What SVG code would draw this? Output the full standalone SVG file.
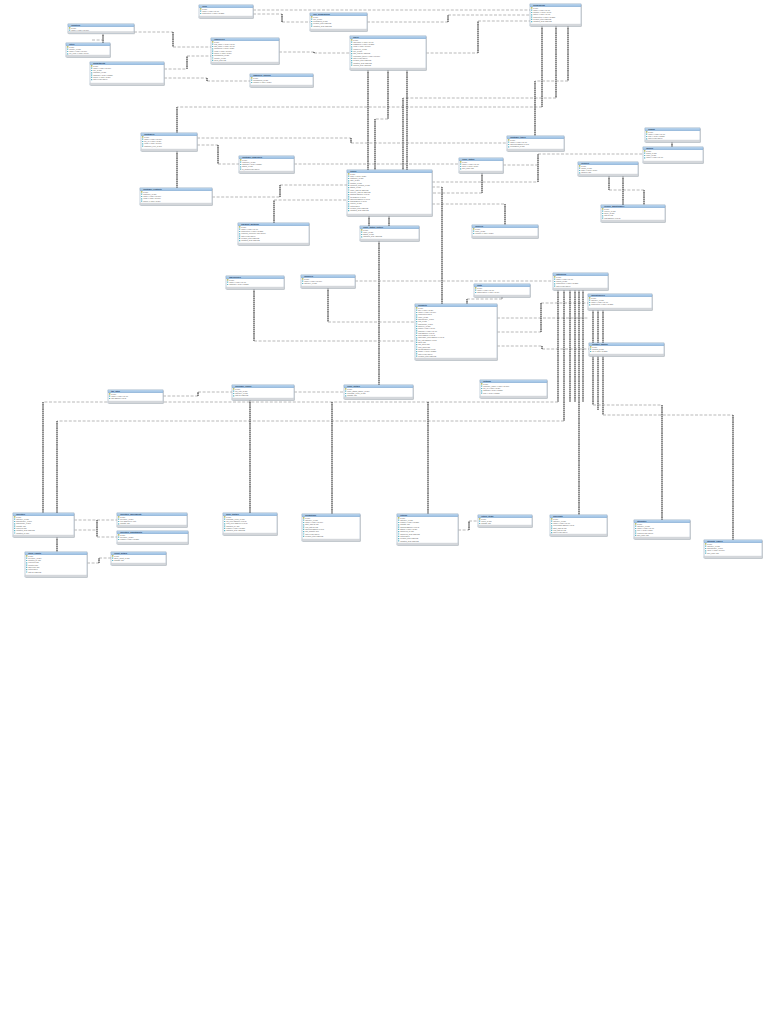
<svg xmlns="http://www.w3.org/2000/svg" width="768" height="1024" viewBox="0 0 768 1024">
<defs>
<linearGradient id="hg" x1="0" y1="0" x2="0" y2="1"><stop offset="0" stop-color="#c6ddf2"/><stop offset="1" stop-color="#8fb8e0"/></linearGradient>
<style>
.h{stroke:#9c9c9c;stroke-width:0.7;stroke-dasharray:3 1.6;fill:none}
.v{stroke:#2d2d2d;stroke-width:1.1;stroke-dasharray:1.6 0.5;fill:none}
.sh{fill:#c8c8c8}
.bx{fill:#ffffff;stroke:#8ea3b8;stroke-width:0.5}
.hd{fill:url(#hg);stroke:#7fa3c6;stroke-width:0.3}
.ft{fill:#d9dbde;stroke:#a9b3bd;stroke-width:0.2}
.ti{font-family:"Liberation Sans",Arial,sans-serif;font-size:2px;font-weight:bold;fill:#1d3a5c}
.r{font-family:"Liberation Sans",Arial,sans-serif;font-size:1.8px;fill:#5a5a5a}
.ic{stroke:#45aac4;stroke-width:1.1;stroke-dasharray:1.2 1.1}
.pk{fill:#e8c030}
</style>
</defs>
<rect width="768" height="1024" fill="#ffffff"/>
<g id="connectors">
<path class="h" d="M253,10H530"/>
<path class="h" d="M253,14H282M282,22H310"/><path class="v" d="M282,14V22"/>
<path class="h" d="M367,22H448M448,15H530"/><path class="v" d="M448,22V15"/>
<path class="h" d="M426,53H478M478,21H530"/><path class="v" d="M478,53V21"/>
<path class="h" d="M279,52H314M314,53H350"/><path class="v" d="M314,52V53"/>
<path class="h" d="M134,32H173M173,47H211"/><path class="v" d="M173,32V47"/>
<path class="h" d="M164,69H187M187,56H211"/><path class="v" d="M187,69V56"/>
<path class="h" d="M164,78H207M207,81H250"/><path class="v" d="M207,78V81"/>
<path class="v" d="M103,33V43"/><path class="h" d="M92,40H103"/>
<path class="v" d="M542,26V107M177,107V133"/><path class="h" d="M542,107H177"/>
<path class="v" d="M556,26V98M403,98V170"/><path class="h" d="M556,98H403"/>
<path class="v" d="M568,26V81M535,81V136"/><path class="h" d="M568,81H535"/>
<path class="v" d="M368,70V170"/>
<path class="v" d="M388,70V119M375,119V170"/><path class="h" d="M388,119H375"/>
<path class="v" d="M407,70V170"/>
<path class="h" d="M197,138H351M351,143H507"/><path class="v" d="M351,138V143"/>
<path class="h" d="M197,145H218M218,164H239"/><path class="v" d="M218,145V164"/>
<path class="h" d="M294,164H459"/>
<path class="v" d="M177,151V188"/>
<path class="h" d="M212,197H280M280,185H347"/><path class="v" d="M280,197V185"/>
<path class="v" d="M274,223V200"/><path class="h" d="M274,200H347"/>
<path class="h" d="M432,182H538M538,154H643"/><path class="v" d="M538,182V154"/>
<path class="h" d="M503,165H538"/>
<path class="v" d="M482,173V193"/><path class="h" d="M482,193H432"/>
<path class="h" d="M432,204H505"/><path class="v" d="M505,204V225"/>
<path class="h" d="M432,187H442"/><path class="v" d="M442,187V304"/>
<path class="v" d="M369,216V226M389,216V226"/>
<path class="v" d="M379,241V385"/>
<path class="v" d="M672,142V147"/>
<path class="v" d="M609,176V190M644,190V205"/><path class="h" d="M609,190H644"/>
<path class="v" d="M623,176V205"/>
<path class="v" d="M254,289V341"/><path class="h" d="M254,341H415"/>
<path class="v" d="M328,288V322"/><path class="h" d="M328,322H415"/>
<path class="h" d="M355,281H553"/>
<path class="v" d="M502,297V299M467,299V304"/><path class="h" d="M502,299H467"/>
<path class="h" d="M497,318H588"/>
<path class="h" d="M497,332H541M541,303H588"/><path class="v" d="M541,332V303"/>
<path class="h" d="M497,346H542M542,349H589"/><path class="v" d="M542,346V349"/>
<path class="v" d="M558,290V402M564,290V421M570,290V402M575,290V402M579,290V515M583,290V402M593,310V405M598,310V410M603,310V415"/>
<path class="h" d="M558,402H43M564,421H57M593,405H662M603,415H733"/>
<path class="v" d="M43,402V513M57,421V513M250,400V513M332,402V514M428,402V514M662,405V520M733,415V540"/>
<path class="h" d="M163,396H198M198,392H232"/><path class="v" d="M198,396V392"/>
<path class="h" d="M294,392H344"/>
<path class="h" d="M74,520H117M74,530H97M97,537H117"/><path class="v" d="M97,520V537"/>
<path class="v" d="M57,537V552"/>
<path class="h" d="M87,563H99M99,558H111"/><path class="v" d="M99,563V558"/>
<path class="h" d="M458,530H469M469,521H478"/><path class="v" d="M469,530V521"/>
</g>

<g id="t-roles" transform="translate(199,5)"><rect class="sh" x="0.7" y="0.7" width="54" height="13"/><rect class="bx" width="54" height="13"/><rect class="hd" width="54" height="2.8"/><text class="ti" x="3.2" y="2.2">roles</text><line class="ic" x1="1.7" y1="3.3" x2="1.7" y2="9.1"/><rect class="pk" x="1.1" y="3.3" width="1.2" height="1.2"/><text class="r" y="4.55"><tspan x="3.2">id INT</tspan><tspan x="3.2" dy="2.3">name VARCHAR(45)</tspan><tspan x="3.2" dy="2.3">description VARCHAR(255)</tspan></text><rect class="ft" y="11" width="54" height="2"/></g>

<g id="t-role-permissions" transform="translate(310,13)"><rect class="sh" x="0.7" y="0.7" width="57" height="18"/><rect class="bx" width="57" height="18"/><rect class="hd" width="57" height="2.8"/><text class="ti" x="3.2" y="2.2">role_permissions</text><line class="ic" x1="1.7" y1="3.3" x2="1.7" y2="13.7"/><rect class="pk" x="1.1" y="3.3" width="1.2" height="1.2"/><text class="r" y="4.55"><tspan x="3.2">id INT</tspan><tspan x="3.2" dy="2.3">role_id INT</tspan><tspan x="3.2" dy="2.3">permission_id INT</tspan><tspan x="3.2" dy="2.3">created_at DATETIME</tspan><tspan x="3.2" dy="2.3">updated_at DATETIME</tspan></text><rect class="ft" y="16" width="57" height="2"/></g>

<g id="t-employees" transform="translate(211,38)"><rect class="sh" x="0.7" y="0.7" width="68" height="26"/><rect class="bx" width="68" height="26"/><rect class="hd" width="68" height="2.8"/><text class="ti" x="3.2" y="2.2">employees</text><line class="ic" x1="1.7" y1="3.3" x2="1.7" y2="22.9"/><rect class="pk" x="1.1" y="3.3" width="1.2" height="1.2"/><text class="r" y="4.55"><tspan x="3.2">id INT</tspan><tspan x="3.2" dy="2.3">first_name VARCHAR(45)</tspan><tspan x="3.2" dy="2.3">last_name VARCHAR(45)</tspan><tspan x="3.2" dy="2.3">document VARCHAR(20)</tspan><tspan x="3.2" dy="2.3">email VARCHAR(100)</tspan><tspan x="3.2" dy="2.3">phone VARCHAR(20)</tspan><tspan x="3.2" dy="2.3">department_id INT</tspan><tspan x="3.2" dy="2.3">country_id INT</tspan><tspan x="3.2" dy="2.3">hired_at DATE</tspan></text><rect class="ft" y="24" width="68" height="2"/></g>

<g id="t-employee-phones" transform="translate(250,74)"><rect class="sh" x="0.7" y="0.7" width="63" height="13"/><rect class="bx" width="63" height="13"/><rect class="hd" width="63" height="2.8"/><text class="ti" x="3.2" y="2.2">employee_phones</text><line class="ic" x1="1.7" y1="3.3" x2="1.7" y2="9.1"/><rect class="pk" x="1.1" y="3.3" width="1.2" height="1.2"/><text class="r" y="4.55"><tspan x="3.2">id INT</tspan><tspan x="3.2" dy="2.3">department_id INT</tspan><tspan x="3.2" dy="2.3">number VARCHAR(20)</tspan></text><rect class="ft" y="11" width="63" height="2"/></g>

<g id="t-users" transform="translate(350,36)"><rect class="sh" x="0.7" y="0.7" width="76" height="34"/><rect class="bx" width="76" height="34"/><rect class="hd" width="76" height="2.8"/><text class="ti" x="3.2" y="2.2">users</text><line class="ic" x1="1.7" y1="3.3" x2="1.7" y2="29.8"/><rect class="pk" x="1.1" y="3.3" width="1.2" height="1.2"/><text class="r" y="4.55"><tspan x="3.2">id INT</tspan><tspan x="3.2" dy="2.3">username VARCHAR(45)</tspan><tspan x="3.2" dy="2.3">password VARCHAR(255)</tspan><tspan x="3.2" dy="2.3">email VARCHAR(100)</tspan><tspan x="3.2" dy="2.3">employee_id INT</tspan><tspan x="3.2" dy="2.3">role_id INT</tspan><tspan x="3.2" dy="2.3">last_login DATETIME</tspan><tspan x="3.2" dy="2.3">remember_token VARCHAR(100)</tspan><tspan x="3.2" dy="2.3">active TINYINT(1)</tspan><tspan x="3.2" dy="2.3">created_at DATETIME</tspan><tspan x="3.2" dy="2.3">updated_at DATETIME</tspan><tspan x="3.2" dy="2.3">deleted_at DATETIME</tspan></text><rect class="ft" y="32" width="76" height="2"/></g>

<g id="t-permissions" transform="translate(530,4)"><rect class="sh" x="0.7" y="0.7" width="51" height="22"/><rect class="bx" width="51" height="22"/><rect class="hd" width="51" height="2.8"/><text class="ti" x="3.2" y="2.2">permissions</text><line class="ic" x1="1.7" y1="3.3" x2="1.7" y2="18.3"/><rect class="pk" x="1.1" y="3.3" width="1.2" height="1.2"/><text class="r" y="4.55"><tspan x="3.2">id INT</tspan><tspan x="3.2" dy="2.3">name VARCHAR(45)</tspan><tspan x="3.2" dy="2.3">module VARCHAR(45)</tspan><tspan x="3.2" dy="2.3">action VARCHAR(45)</tspan><tspan x="3.2" dy="2.3">description VARCHAR(255)</tspan><tspan x="3.2" dy="2.3">created_at DATETIME</tspan><tspan x="3.2" dy="2.3">updated_at DATETIME</tspan></text><rect class="ft" y="20" width="51" height="2"/></g>

<g id="t-countries" transform="translate(68,24)"><rect class="sh" x="0.7" y="0.7" width="66" height="9.5"/><rect class="bx" width="66" height="9.5"/><rect class="hd" width="66" height="2.8"/><text class="ti" x="3.2" y="2.2">countries</text><line class="ic" x1="1.7" y1="3.3" x2="1.7" y2="6.8"/><rect class="pk" x="1.1" y="3.3" width="1.2" height="1.2"/><text class="r" y="4.55"><tspan x="3.2">id INT</tspan><tspan x="3.2" dy="2.3">name VARCHAR(100)</tspan></text><rect class="ft" y="7.5" width="66" height="2"/></g>

<g id="t-cities" transform="translate(66,43)"><rect class="sh" x="0.7" y="0.7" width="44" height="14"/><rect class="bx" width="44" height="14"/><rect class="hd" width="44" height="2.8"/><text class="ti" x="3.2" y="2.2">cities</text><line class="ic" x1="1.7" y1="3.3" x2="1.7" y2="11.4"/><rect class="pk" x="1.1" y="3.3" width="1.2" height="1.2"/><text class="r" y="4.55"><tspan x="3.2">id INT</tspan><tspan x="3.2" dy="2.3">country_id INT</tspan><tspan x="3.2" dy="2.3">name VARCHAR(100)</tspan><tspan x="3.2" dy="2.3">zip_code VARCHAR(10)</tspan></text><rect class="ft" y="12" width="44" height="2"/></g>

<g id="t-departments" transform="translate(90,62)"><rect class="sh" x="0.7" y="0.7" width="74" height="23"/><rect class="bx" width="74" height="23"/><rect class="hd" width="74" height="2.8"/><text class="ti" x="3.2" y="2.2">departments</text><line class="ic" x1="1.7" y1="3.3" x2="1.7" y2="18.3"/><rect class="pk" x="1.1" y="3.3" width="1.2" height="1.2"/><text class="r" y="4.55"><tspan x="3.2">id INT</tspan><tspan x="3.2" dy="2.3">name VARCHAR(100)</tspan><tspan x="3.2" dy="2.3">city_id INT</tspan><tspan x="3.2" dy="2.3">manager_id INT</tspan><tspan x="3.2" dy="2.3">address VARCHAR(255)</tspan><tspan x="3.2" dy="2.3">phone VARCHAR(20)</tspan><tspan x="3.2" dy="2.3">active TINYINT(1)</tspan></text><rect class="ft" y="21" width="74" height="2"/></g>

<g id="t-customers" transform="translate(141,133)"><rect class="sh" x="0.7" y="0.7" width="56" height="18"/><rect class="bx" width="56" height="18"/><rect class="hd" width="56" height="2.8"/><text class="ti" x="3.2" y="2.2">customers</text><line class="ic" x1="1.7" y1="3.3" x2="1.7" y2="13.7"/><rect class="pk" x="1.1" y="3.3" width="1.2" height="1.2"/><text class="r" y="4.55"><tspan x="3.2">id INT</tspan><tspan x="3.2" dy="2.3">name VARCHAR(100)</tspan><tspan x="3.2" dy="2.3">tax_id VARCHAR(20)</tspan><tspan x="3.2" dy="2.3">email VARCHAR(100)</tspan><tspan x="3.2" dy="2.3">customer_type_id INT</tspan></text><rect class="ft" y="16" width="56" height="2"/></g>

<g id="t-customer-addresses" transform="translate(239,156)"><rect class="sh" x="0.7" y="0.7" width="55" height="17"/><rect class="bx" width="55" height="17"/><rect class="hd" width="55" height="2.8"/><text class="ti" x="3.2" y="2.2">customer_addresses</text><line class="ic" x1="1.7" y1="3.3" x2="1.7" y2="13.7"/><rect class="pk" x="1.1" y="3.3" width="1.2" height="1.2"/><text class="r" y="4.55"><tspan x="3.2">id INT</tspan><tspan x="3.2" dy="2.3">customer_id INT</tspan><tspan x="3.2" dy="2.3">address VARCHAR(255)</tspan><tspan x="3.2" dy="2.3">status_id INT</tspan><tspan x="3.2" dy="2.3">is_default TINYINT(1)</tspan></text><rect class="ft" y="15" width="55" height="2"/></g>

<g id="t-customer-contacts" transform="translate(140,188)"><rect class="sh" x="0.7" y="0.7" width="72" height="17"/><rect class="bx" width="72" height="17"/><rect class="hd" width="72" height="2.8"/><text class="ti" x="3.2" y="2.2">customer_contacts</text><line class="ic" x1="1.7" y1="3.3" x2="1.7" y2="13.7"/><rect class="pk" x="1.1" y="3.3" width="1.2" height="1.2"/><text class="r" y="4.55"><tspan x="3.2">id INT</tspan><tspan x="3.2" dy="2.3">customer_id INT</tspan><tspan x="3.2" dy="2.3">name VARCHAR(100)</tspan><tspan x="3.2" dy="2.3">email VARCHAR(100)</tspan><tspan x="3.2" dy="2.3">phone VARCHAR(20)</tspan></text><rect class="ft" y="15" width="72" height="2"/></g>

<g id="t-payment-methods" transform="translate(238,223)"><rect class="sh" x="0.7" y="0.7" width="71" height="22"/><rect class="bx" width="71" height="22"/><rect class="hd" width="71" height="2.8"/><text class="ti" x="3.2" y="2.2">payment_methods</text><line class="ic" x1="1.7" y1="3.3" x2="1.7" y2="18.3"/><rect class="pk" x="1.1" y="3.3" width="1.2" height="1.2"/><text class="r" y="4.55"><tspan x="3.2">id INT</tspan><tspan x="3.2" dy="2.3">name VARCHAR(45)</tspan><tspan x="3.2" dy="2.3">description VARCHAR(255)</tspan><tspan x="3.2" dy="2.3">requires_reference TINYINT(1)</tspan><tspan x="3.2" dy="2.3">active TINYINT(1)</tspan><tspan x="3.2" dy="2.3">created_at DATETIME</tspan><tspan x="3.2" dy="2.3">updated_at DATETIME</tspan></text><rect class="ft" y="20" width="71" height="2"/></g>

<g id="t-orders" transform="translate(347,170)"><rect class="sh" x="0.7" y="0.7" width="85" height="46"/><rect class="bx" width="85" height="46"/><rect class="hd" width="85" height="2.8"/><text class="ti" x="3.2" y="2.2">orders</text><line class="ic" x1="1.7" y1="3.3" x2="1.7" y2="41.3"/><rect class="pk" x="1.1" y="3.3" width="1.2" height="1.2"/><text class="r" y="4.55"><tspan x="3.2">id INT</tspan><tspan x="3.2" dy="2.3">code VARCHAR(20)</tspan><tspan x="3.2" dy="2.3">customer_id INT</tspan><tspan x="3.2" dy="2.3">user_id INT</tspan><tspan x="3.2" dy="2.3">contact_id INT</tspan><tspan x="3.2" dy="2.3">payment_method_id INT</tspan><tspan x="3.2" dy="2.3">status_id INT</tspan><tspan x="3.2" dy="2.3">order_date DATETIME</tspan><tspan x="3.2" dy="2.3">delivery_date DATETIME</tspan><tspan x="3.2" dy="2.3">subtotal DECIMAL(10,2)</tspan><tspan x="3.2" dy="2.3">tax DECIMAL(10,2)</tspan><tspan x="3.2" dy="2.3">discount DECIMAL(10,2)</tspan><tspan x="3.2" dy="2.3">total DECIMAL(10,2)</tspan><tspan x="3.2" dy="2.3">vehicle_id INT</tspan><tspan x="3.2" dy="2.3">notes TEXT</tspan><tspan x="3.2" dy="2.3">created_at DATETIME</tspan><tspan x="3.2" dy="2.3">updated_at DATETIME</tspan></text><rect class="ft" y="44" width="85" height="2"/></g>

<g id="t-order-status-history" transform="translate(360,226)"><rect class="sh" x="0.7" y="0.7" width="59" height="15"/><rect class="bx" width="59" height="15"/><rect class="hd" width="59" height="2.8"/><text class="ti" x="3.2" y="2.2">order_status_history</text><line class="ic" x1="1.7" y1="3.3" x2="1.7" y2="11.4"/><rect class="pk" x="1.1" y="3.3" width="1.2" height="1.2"/><text class="r" y="4.55"><tspan x="3.2">id INT</tspan><tspan x="3.2" dy="2.3">order_id INT</tspan><tspan x="3.2" dy="2.3">status_id INT</tspan><tspan x="3.2" dy="2.3">changed_at DATETIME</tspan></text><rect class="ft" y="13" width="59" height="2"/></g>

<g id="t-customer-types" transform="translate(507,136)"><rect class="sh" x="0.7" y="0.7" width="57" height="15"/><rect class="bx" width="57" height="15"/><rect class="hd" width="57" height="2.8"/><text class="ti" x="3.2" y="2.2">customer_types</text><line class="ic" x1="1.7" y1="3.3" x2="1.7" y2="11.4"/><rect class="pk" x="1.1" y="3.3" width="1.2" height="1.2"/><text class="r" y="4.55"><tspan x="3.2">id INT</tspan><tspan x="3.2" dy="2.3">name VARCHAR(45)</tspan><tspan x="3.2" dy="2.3">discount DECIMAL(5,2)</tspan><tspan x="3.2" dy="2.3">permission_id INT</tspan></text><rect class="ft" y="13" width="57" height="2"/></g>

<g id="t-order-status" transform="translate(459,158)"><rect class="sh" x="0.7" y="0.7" width="44" height="15"/><rect class="bx" width="44" height="15"/><rect class="hd" width="44" height="2.8"/><text class="ti" x="3.2" y="2.2">order_status</text><line class="ic" x1="1.7" y1="3.3" x2="1.7" y2="11.4"/><rect class="pk" x="1.1" y="3.3" width="1.2" height="1.2"/><text class="r" y="4.55"><tspan x="3.2">id INT</tspan><tspan x="3.2" dy="2.3">name VARCHAR(45)</tspan><tspan x="3.2" dy="2.3">color VARCHAR(10)</tspan><tspan x="3.2" dy="2.3">sort_order INT</tspan></text><rect class="ft" y="13" width="44" height="2"/></g>

<g id="t-invoices" transform="translate(472,225)"><rect class="sh" x="0.7" y="0.7" width="66" height="13"/><rect class="bx" width="66" height="13"/><rect class="hd" width="66" height="2.8"/><text class="ti" x="3.2" y="2.2">invoices</text><line class="ic" x1="1.7" y1="3.3" x2="1.7" y2="9.1"/><rect class="pk" x="1.1" y="3.3" width="1.2" height="1.2"/><text class="r" y="4.55"><tspan x="3.2">id INT</tspan><tspan x="3.2" dy="2.3">order_id INT</tspan><tspan x="3.2" dy="2.3">number VARCHAR(20)</tspan></text><rect class="ft" y="11" width="66" height="2"/></g>

<g id="t-brands" transform="translate(645,128)"><rect class="sh" x="0.7" y="0.7" width="55" height="14"/><rect class="bx" width="55" height="14"/><rect class="hd" width="55" height="2.8"/><text class="ti" x="3.2" y="2.2">brands</text><line class="ic" x1="1.7" y1="3.3" x2="1.7" y2="11.4"/><rect class="pk" x="1.1" y="3.3" width="1.2" height="1.2"/><text class="r" y="4.55"><tspan x="3.2">id INT</tspan><tspan x="3.2" dy="2.3">name VARCHAR(45)</tspan><tspan x="3.2" dy="2.3">logo VARCHAR(255)</tspan><tspan x="3.2" dy="2.3">active TINYINT(1)</tspan></text><rect class="ft" y="12" width="55" height="2"/></g>

<g id="t-models" transform="translate(643,147)"><rect class="sh" x="0.7" y="0.7" width="60" height="16"/><rect class="bx" width="60" height="16"/><rect class="hd" width="60" height="2.8"/><text class="ti" x="3.2" y="2.2">models</text><line class="ic" x1="1.7" y1="3.3" x2="1.7" y2="11.4"/><rect class="pk" x="1.1" y="3.3" width="1.2" height="1.2"/><text class="r" y="4.55"><tspan x="3.2">id INT</tspan><tspan x="3.2" dy="2.3">brand_id INT</tspan><tspan x="3.2" dy="2.3">order_id INT</tspan><tspan x="3.2" dy="2.3">name VARCHAR(45)</tspan></text><rect class="ft" y="14" width="60" height="2"/></g>

<g id="t-vehicles" transform="translate(578,162)"><rect class="sh" x="0.7" y="0.7" width="60" height="14"/><rect class="bx" width="60" height="14"/><rect class="hd" width="60" height="2.8"/><text class="ti" x="3.2" y="2.2">vehicles</text><line class="ic" x1="1.7" y1="3.3" x2="1.7" y2="11.4"/><rect class="pk" x="1.1" y="3.3" width="1.2" height="1.2"/><text class="r" y="4.55"><tspan x="3.2">id INT</tspan><tspan x="3.2" dy="2.3">model_id INT</tspan><tspan x="3.2" dy="2.3">plate VARCHAR(10)</tspan><tspan x="3.2" dy="2.3">capacity INT</tspan></text><rect class="ft" y="12" width="60" height="2"/></g>

<g id="t-vehicle-maintenance" transform="translate(601,205)"><rect class="sh" x="0.7" y="0.7" width="64" height="17"/><rect class="bx" width="64" height="17"/><rect class="hd" width="64" height="2.8"/><text class="ti" x="3.2" y="2.2">vehicle_maintenance</text><line class="ic" x1="1.7" y1="3.3" x2="1.7" y2="13.7"/><rect class="pk" x="1.1" y="3.3" width="1.2" height="1.2"/><text class="r" y="4.55"><tspan x="3.2">id INT</tspan><tspan x="3.2" dy="2.3">vehicle_id INT</tspan><tspan x="3.2" dy="2.3">driver_id INT</tspan><tspan x="3.2" dy="2.3">date DATE</tspan><tspan x="3.2" dy="2.3">cost DECIMAL(10,2)</tspan></text><rect class="ft" y="15" width="64" height="2"/></g>

<g id="t-warehouses" transform="translate(226,276)"><rect class="sh" x="0.7" y="0.7" width="58" height="13"/><rect class="bx" width="58" height="13"/><rect class="hd" width="58" height="2.8"/><text class="ti" x="3.2" y="2.2">warehouses</text><line class="ic" x1="1.7" y1="3.3" x2="1.7" y2="9.1"/><rect class="pk" x="1.1" y="3.3" width="1.2" height="1.2"/><text class="r" y="4.55"><tspan x="3.2">id INT</tspan><tspan x="3.2" dy="2.3">name VARCHAR(45)</tspan><tspan x="3.2" dy="2.3">address VARCHAR(255)</tspan></text><rect class="ft" y="11" width="58" height="2"/></g>

<g id="t-suppliers" transform="translate(301,275)"><rect class="sh" x="0.7" y="0.7" width="54" height="13"/><rect class="bx" width="54" height="13"/><rect class="hd" width="54" height="2.8"/><text class="ti" x="3.2" y="2.2">suppliers</text><line class="ic" x1="1.7" y1="3.3" x2="1.7" y2="9.1"/><rect class="pk" x="1.1" y="3.3" width="1.2" height="1.2"/><text class="r" y="4.55"><tspan x="3.2">id INT</tspan><tspan x="3.2" dy="2.3">name VARCHAR(100)</tspan><tspan x="3.2" dy="2.3">category_id INT</tspan></text><rect class="ft" y="11" width="54" height="2"/></g>

<g id="t-products" transform="translate(415,304)"><rect class="sh" x="0.7" y="0.7" width="82" height="56"/><rect class="bx" width="82" height="56"/><rect class="hd" width="82" height="2.8"/><text class="ti" x="3.2" y="2.2">products</text><line class="ic" x1="1.7" y1="3.3" x2="1.7" y2="52.8"/><rect class="pk" x="1.1" y="3.3" width="1.2" height="1.2"/><text class="r" y="4.55"><tspan x="3.2">id INT</tspan><tspan x="3.2" dy="2.3">sku VARCHAR(20)</tspan><tspan x="3.2" dy="2.3">name VARCHAR(100)</tspan><tspan x="3.2" dy="2.3">description TEXT</tspan><tspan x="3.2" dy="2.3">order_id INT</tspan><tspan x="3.2" dy="2.3">subcategory_id INT</tspan><tspan x="3.2" dy="2.3">unit_id INT</tspan><tspan x="3.2" dy="2.3">warehouse_id INT</tspan><tspan x="3.2" dy="2.3">supplier_id INT</tspan><tspan x="3.2" dy="2.3">brand VARCHAR(45)</tspan><tspan x="3.2" dy="2.3">barcode VARCHAR(45)</tspan><tspan x="3.2" dy="2.3">cost DECIMAL(10,2)</tspan><tspan x="3.2" dy="2.3">price DECIMAL(10,2)</tspan><tspan x="3.2" dy="2.3">wholesale_price DECIMAL(10,2)</tspan><tspan x="3.2" dy="2.3">tax_rate DECIMAL(5,2)</tspan><tspan x="3.2" dy="2.3">stock INT</tspan><tspan x="3.2" dy="2.3">min_stock INT</tspan><tspan x="3.2" dy="2.3">max_stock INT</tspan><tspan x="3.2" dy="2.3">weight DECIMAL(8,2)</tspan><tspan x="3.2" dy="2.3">image VARCHAR(255)</tspan><tspan x="3.2" dy="2.3">active TINYINT(1)</tspan><tspan x="3.2" dy="2.3">created_at DATETIME</tspan></text><rect class="ft" y="54" width="82" height="2"/></g>

<g id="t-purchase-orders" transform="translate(232,385)"><rect class="sh" x="0.7" y="0.7" width="62" height="15"/><rect class="bx" width="62" height="15"/><rect class="hd" width="62" height="2.8"/><text class="ti" x="3.2" y="2.2">purchase_orders</text><line class="ic" x1="1.7" y1="3.3" x2="1.7" y2="11.4"/><rect class="pk" x="1.1" y="3.3" width="1.2" height="1.2"/><text class="r" y="4.55"><tspan x="3.2">id INT</tspan><tspan x="3.2" dy="2.3">tax_rate_id INT</tspan><tspan x="3.2" dy="2.3">category_id INT</tspan><tspan x="3.2" dy="2.3">date DATETIME</tspan></text><rect class="ft" y="13" width="62" height="2"/></g>

<g id="t-order-details" transform="translate(344,385)"><rect class="sh" x="0.7" y="0.7" width="69" height="14"/><rect class="bx" width="69" height="14"/><rect class="hd" width="69" height="2.8"/><text class="ti" x="3.2" y="2.2">order_details</text><line class="ic" x1="1.7" y1="3.3" x2="1.7" y2="11.4"/><rect class="pk" x="1.1" y="3.3" width="1.2" height="1.2"/><text class="r" y="4.55"><tspan x="3.2">id INT</tspan><tspan x="3.2" dy="2.3">order_status_history_id INT</tspan><tspan x="3.2" dy="2.3">purchase_order_id INT</tspan><tspan x="3.2" dy="2.3">quantity INT</tspan></text><rect class="ft" y="12" width="69" height="2"/></g>

<g id="t-categories" transform="translate(553,273)"><rect class="sh" x="0.7" y="0.7" width="55" height="17"/><rect class="bx" width="55" height="17"/><rect class="hd" width="55" height="2.8"/><text class="ti" x="3.2" y="2.2">categories</text><line class="ic" x1="1.7" y1="3.3" x2="1.7" y2="13.7"/><rect class="pk" x="1.1" y="3.3" width="1.2" height="1.2"/><text class="r" y="4.55"><tspan x="3.2">id INT</tspan><tspan x="3.2" dy="2.3">name VARCHAR(45)</tspan><tspan x="3.2" dy="2.3">parent_id INT</tspan><tspan x="3.2" dy="2.3">description VARCHAR(255)</tspan><tspan x="3.2" dy="2.3">active TINYINT(1)</tspan></text><rect class="ft" y="15" width="55" height="2"/></g>

<g id="t-units" transform="translate(474,284)"><rect class="sh" x="0.7" y="0.7" width="56" height="13"/><rect class="bx" width="56" height="13"/><rect class="hd" width="56" height="2.8"/><text class="ti" x="3.2" y="2.2">units</text><line class="ic" x1="1.7" y1="3.3" x2="1.7" y2="9.1"/><rect class="pk" x="1.1" y="3.3" width="1.2" height="1.2"/><text class="r" y="4.55"><tspan x="3.2">id INT</tspan><tspan x="3.2" dy="2.3">name VARCHAR(45)</tspan><tspan x="3.2" dy="2.3">abbreviation VARCHAR(10)</tspan></text><rect class="ft" y="11" width="56" height="2"/></g>

<g id="t-subcategories" transform="translate(588,294)"><rect class="sh" x="0.7" y="0.7" width="64" height="16"/><rect class="bx" width="64" height="16"/><rect class="hd" width="64" height="2.8"/><text class="ti" x="3.2" y="2.2">subcategories</text><line class="ic" x1="1.7" y1="3.3" x2="1.7" y2="11.4"/><rect class="pk" x="1.1" y="3.3" width="1.2" height="1.2"/><text class="r" y="4.55"><tspan x="3.2">id INT</tspan><tspan x="3.2" dy="2.3">category_id INT</tspan><tspan x="3.2" dy="2.3">name VARCHAR(45)</tspan><tspan x="3.2" dy="2.3">description VARCHAR(255)</tspan></text><rect class="ft" y="14" width="64" height="2"/></g>

<g id="t-product-images" transform="translate(589,343)"><rect class="sh" x="0.7" y="0.7" width="75" height="13"/><rect class="bx" width="75" height="13"/><rect class="hd" width="75" height="2.8"/><text class="ti" x="3.2" y="2.2">product_images</text><line class="ic" x1="1.7" y1="3.3" x2="1.7" y2="9.1"/><rect class="pk" x="1.1" y="3.3" width="1.2" height="1.2"/><text class="r" y="4.55"><tspan x="3.2">id INT</tspan><tspan x="3.2" dy="2.3">product_id INT</tspan><tspan x="3.2" dy="2.3">url VARCHAR(255)</tspan></text><rect class="ft" y="11" width="75" height="2"/></g>

<g id="t-settings" transform="translate(480,380)"><rect class="sh" x="0.7" y="0.7" width="67" height="18"/><rect class="bx" width="67" height="18"/><rect class="hd" width="67" height="2.8"/><text class="ti" x="3.2" y="2.2">settings</text><line class="ic" x1="1.7" y1="3.3" x2="1.7" y2="13.7"/><rect class="pk" x="1.1" y="3.3" width="1.2" height="1.2"/><text class="r" y="4.55"><tspan x="3.2">id INT</tspan><tspan x="3.2" dy="2.3">company_name VARCHAR(100)</tspan><tspan x="3.2" dy="2.3">tax_id VARCHAR(20)</tspan><tspan x="3.2" dy="2.3">address VARCHAR(255)</tspan><tspan x="3.2" dy="2.3">logo VARCHAR(255)</tspan></text><rect class="ft" y="16" width="67" height="2"/></g>

<g id="t-inventory" transform="translate(13,513)"><rect class="sh" x="0.7" y="0.7" width="61" height="24"/><rect class="bx" width="61" height="24"/><rect class="hd" width="61" height="2.8"/><text class="ti" x="3.2" y="2.2">inventory</text><line class="ic" x1="1.7" y1="3.3" x2="1.7" y2="20.6"/><rect class="pk" x="1.1" y="3.3" width="1.2" height="1.2"/><text class="r" y="4.55"><tspan x="3.2">id INT</tspan><tspan x="3.2" dy="2.3">category_id INT</tspan><tspan x="3.2" dy="2.3">subcategory_id INT</tspan><tspan x="3.2" dy="2.3">warehouse_id INT</tspan><tspan x="3.2" dy="2.3">quantity INT</tspan><tspan x="3.2" dy="2.3">reserved INT</tspan><tspan x="3.2" dy="2.3">updated_at DATETIME</tspan><tspan x="3.2" dy="2.3">updated_by INT</tspan></text><rect class="ft" y="22" width="61" height="2"/></g>

<g id="t-inventory-movements" transform="translate(117,513)"><rect class="sh" x="0.7" y="0.7" width="70" height="14"/><rect class="bx" width="70" height="14"/><rect class="hd" width="70" height="2.8"/><text class="ti" x="3.2" y="2.2">inventory_movements</text><line class="ic" x1="1.7" y1="3.3" x2="1.7" y2="11.4"/><rect class="pk" x="1.1" y="3.3" width="1.2" height="1.2"/><text class="r" y="4.55"><tspan x="3.2">id INT</tspan><tspan x="3.2" dy="2.3">inventory_id INT</tspan><tspan x="3.2" dy="2.3">type ENUM('in','out')</tspan><tspan x="3.2" dy="2.3">quantity INT</tspan></text><rect class="ft" y="12" width="70" height="2"/></g>

<g id="t-inventory-adjustments" transform="translate(117,531)"><rect class="sh" x="0.7" y="0.7" width="71" height="13"/><rect class="bx" width="71" height="13"/><rect class="hd" width="71" height="2.8"/><text class="ti" x="3.2" y="2.2">inventory_adjustments</text><line class="ic" x1="1.7" y1="3.3" x2="1.7" y2="9.1"/><rect class="pk" x="1.1" y="3.3" width="1.2" height="1.2"/><text class="r" y="4.55"><tspan x="3.2">id INT</tspan><tspan x="3.2" dy="2.3">inventory_id INT</tspan><tspan x="3.2" dy="2.3">reason VARCHAR(255)</tspan></text><rect class="ft" y="11" width="71" height="2"/></g>

<g id="t-stock-counts" transform="translate(25,552)"><rect class="sh" x="0.7" y="0.7" width="62" height="25"/><rect class="bx" width="62" height="25"/><rect class="hd" width="62" height="2.8"/><text class="ti" x="3.2" y="2.2">stock_counts</text><line class="ic" x1="1.7" y1="3.3" x2="1.7" y2="20.6"/><rect class="pk" x="1.1" y="3.3" width="1.2" height="1.2"/><text class="r" y="4.55"><tspan x="3.2">id INT</tspan><tspan x="3.2" dy="2.3">inventory_id INT</tspan><tspan x="3.2" dy="2.3">counted_by INT</tspan><tspan x="3.2" dy="2.3">expected INT</tspan><tspan x="3.2" dy="2.3">counted INT</tspan><tspan x="3.2" dy="2.3">difference INT</tspan><tspan x="3.2" dy="2.3">notes TEXT</tspan><tspan x="3.2" dy="2.3">date DATETIME</tspan></text><rect class="ft" y="23" width="62" height="2"/></g>

<g id="t-count-details" transform="translate(111,552)"><rect class="sh" x="0.7" y="0.7" width="55" height="13"/><rect class="bx" width="55" height="13"/><rect class="hd" width="55" height="2.8"/><text class="ti" x="3.2" y="2.2">count_details</text><line class="ic" x1="1.7" y1="3.3" x2="1.7" y2="9.1"/><rect class="pk" x="1.1" y="3.3" width="1.2" height="1.2"/><text class="r" y="4.55"><tspan x="3.2">id INT</tspan><tspan x="3.2" dy="2.3">stock_count_id INT</tspan><tspan x="3.2" dy="2.3">quantity INT</tspan></text><rect class="ft" y="11" width="55" height="2"/></g>

<g id="t-price-history" transform="translate(223,513)"><rect class="sh" x="0.7" y="0.7" width="54" height="22"/><rect class="bx" width="54" height="22"/><rect class="hd" width="54" height="2.8"/><text class="ti" x="3.2" y="2.2">price_history</text><line class="ic" x1="1.7" y1="3.3" x2="1.7" y2="18.3"/><rect class="pk" x="1.1" y="3.3" width="1.2" height="1.2"/><text class="r" y="4.55"><tspan x="3.2">id INT</tspan><tspan x="3.2" dy="2.3">purchase_order_id INT</tspan><tspan x="3.2" dy="2.3">old_price DECIMAL(10,2)</tspan><tspan x="3.2" dy="2.3">new_price DECIMAL(10,2)</tspan><tspan x="3.2" dy="2.3">changed_by INT</tspan><tspan x="3.2" dy="2.3">reason VARCHAR(255)</tspan><tspan x="3.2" dy="2.3">changed_at DATETIME</tspan></text><rect class="ft" y="20" width="54" height="2"/></g>

<g id="t-tax-rates" transform="translate(108,390)"><rect class="sh" x="0.7" y="0.7" width="55" height="13"/><rect class="bx" width="55" height="13"/><rect class="hd" width="55" height="2.8"/><text class="ti" x="3.2" y="2.2">tax_rates</text><line class="ic" x1="1.7" y1="3.3" x2="1.7" y2="9.1"/><rect class="pk" x="1.1" y="3.3" width="1.2" height="1.2"/><text class="r" y="4.55"><tspan x="3.2">id INT</tspan><tspan x="3.2" dy="2.3">name VARCHAR(45)</tspan><tspan x="3.2" dy="2.3">rate DECIMAL(5,2)</tspan></text><rect class="ft" y="11" width="55" height="2"/></g>

<g id="t-promotions" transform="translate(302,514)"><rect class="sh" x="0.7" y="0.7" width="58" height="27"/><rect class="bx" width="58" height="27"/><rect class="hd" width="58" height="2.8"/><text class="ti" x="3.2" y="2.2">promotions</text><line class="ic" x1="1.7" y1="3.3" x2="1.7" y2="22.9"/><rect class="pk" x="1.1" y="3.3" width="1.2" height="1.2"/><text class="r" y="4.55"><tspan x="3.2">id INT</tspan><tspan x="3.2" dy="2.3">category_id INT</tspan><tspan x="3.2" dy="2.3">name VARCHAR(100)</tspan><tspan x="3.2" dy="2.3">start_date DATE</tspan><tspan x="3.2" dy="2.3">end_date DATE</tspan><tspan x="3.2" dy="2.3">discount DECIMAL(5,2)</tspan><tspan x="3.2" dy="2.3">min_quantity INT</tspan><tspan x="3.2" dy="2.3">active TINYINT(1)</tspan><tspan x="3.2" dy="2.3">created_at DATETIME</tspan></text><rect class="ft" y="25" width="58" height="2"/></g>

<g id="t-returns" transform="translate(397,514)"><rect class="sh" x="0.7" y="0.7" width="61" height="31"/><rect class="bx" width="61" height="31"/><rect class="hd" width="61" height="2.8"/><text class="ti" x="3.2" y="2.2">returns</text><line class="ic" x1="1.7" y1="3.3" x2="1.7" y2="27.5"/><rect class="pk" x="1.1" y="3.3" width="1.2" height="1.2"/><text class="r" y="4.55"><tspan x="3.2">id INT</tspan><tspan x="3.2" dy="2.3">category_id INT</tspan><tspan x="3.2" dy="2.3">reason VARCHAR(255)</tspan><tspan x="3.2" dy="2.3">quantity INT</tspan><tspan x="3.2" dy="2.3">amount DECIMAL(10,2)</tspan><tspan x="3.2" dy="2.3">status VARCHAR(20)</tspan><tspan x="3.2" dy="2.3">approved_by INT</tspan><tspan x="3.2" dy="2.3">approved_at DATETIME</tspan><tspan x="3.2" dy="2.3">notes TEXT</tspan><tspan x="3.2" dy="2.3">created_at DATETIME</tspan><tspan x="3.2" dy="2.3">updated_at DATETIME</tspan></text><rect class="ft" y="29" width="61" height="2"/></g>

<g id="t-return-items" transform="translate(478,515)"><rect class="sh" x="0.7" y="0.7" width="54" height="12"/><rect class="bx" width="54" height="12"/><rect class="hd" width="54" height="2.8"/><text class="ti" x="3.2" y="2.2">return_items</text><line class="ic" x1="1.7" y1="3.3" x2="1.7" y2="9.1"/><rect class="pk" x="1.1" y="3.3" width="1.2" height="1.2"/><text class="r" y="4.55"><tspan x="3.2">id INT</tspan><tspan x="3.2" dy="2.3">return_id INT</tspan><tspan x="3.2" dy="2.3">quantity INT</tspan></text><rect class="ft" y="10" width="54" height="2"/></g>

<g id="t-discounts" transform="translate(550,515)"><rect class="sh" x="0.7" y="0.7" width="57" height="21"/><rect class="bx" width="57" height="21"/><rect class="hd" width="57" height="2.8"/><text class="ti" x="3.2" y="2.2">discounts</text><line class="ic" x1="1.7" y1="3.3" x2="1.7" y2="18.3"/><rect class="pk" x="1.1" y="3.3" width="1.2" height="1.2"/><text class="r" y="4.55"><tspan x="3.2">id INT</tspan><tspan x="3.2" dy="2.3">category_id INT</tspan><tspan x="3.2" dy="2.3">name VARCHAR(45)</tspan><tspan x="3.2" dy="2.3">percentage DECIMAL(5,2)</tspan><tspan x="3.2" dy="2.3">start_date DATE</tspan><tspan x="3.2" dy="2.3">end_date DATE</tspan><tspan x="3.2" dy="2.3">active TINYINT(1)</tspan></text><rect class="ft" y="19" width="57" height="2"/></g>

<g id="t-attributes" transform="translate(634,520)"><rect class="sh" x="0.7" y="0.7" width="56" height="19"/><rect class="bx" width="56" height="19"/><rect class="hd" width="56" height="2.8"/><text class="ti" x="3.2" y="2.2">attributes</text><line class="ic" x1="1.7" y1="3.3" x2="1.7" y2="16"/><rect class="pk" x="1.1" y="3.3" width="1.2" height="1.2"/><text class="r" y="4.55"><tspan x="3.2">id INT</tspan><tspan x="3.2" dy="2.3">category_id INT</tspan><tspan x="3.2" dy="2.3">name VARCHAR(45)</tspan><tspan x="3.2" dy="2.3">type VARCHAR(20)</tspan><tspan x="3.2" dy="2.3">required TINYINT(1)</tspan><tspan x="3.2" dy="2.3">sort_order INT</tspan></text><rect class="ft" y="17" width="56" height="2"/></g>

<g id="t-attribute-values" transform="translate(704,540)"><rect class="sh" x="0.7" y="0.7" width="58" height="18"/><rect class="bx" width="58" height="18"/><rect class="hd" width="58" height="2.8"/><text class="ti" x="3.2" y="2.2">attribute_values</text><line class="ic" x1="1.7" y1="3.3" x2="1.7" y2="13.7"/><rect class="pk" x="1.1" y="3.3" width="1.2" height="1.2"/><text class="r" y="4.55"><tspan x="3.2">id INT</tspan><tspan x="3.2" dy="2.3">category_id INT</tspan><tspan x="3.2" dy="2.3">subcategory_id INT</tspan><tspan x="3.2" dy="2.3">value VARCHAR(100)</tspan><tspan x="3.2" dy="2.3">sort_order INT</tspan></text><rect class="ft" y="16" width="58" height="2"/></g>
</svg>
